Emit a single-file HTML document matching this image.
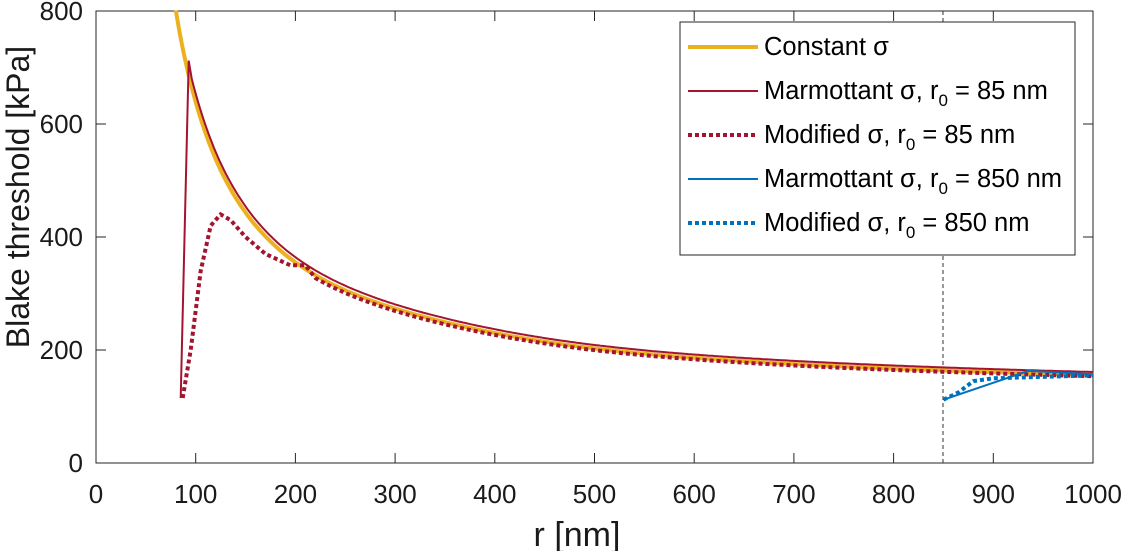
<!DOCTYPE html>
<html><head><style>
body{margin:0;background:#fff;}
svg text{font-family:"Liberation Sans",sans-serif;}
</style></head><body>
<svg id="s" width="1125" height="551" xmlns="http://www.w3.org/2000/svg">
<rect x="96" y="11" width="997" height="452" fill="#fff" stroke="#262626" stroke-width="1"/>
<g id="ticks" stroke="#262626" stroke-width="1"></g>
<g font-size="26" fill="#1a1a1a" id="labels"></g>
<line x1="943" y1="11" x2="943" y2="463" stroke="#333" stroke-width="1" stroke-dasharray="4,3"/>
<g id="series" fill="none"></g>
<text x="577" y="546" font-size="34" text-anchor="middle" fill="#1a1a1a">r [nm]</text>
<text transform="translate(29,197) rotate(-90)" font-size="32" text-anchor="middle" fill="#1a1a1a">Blake threshold [kPa]</text>
<rect x="680" y="22" width="395" height="233" fill="#fff" stroke="#262626" stroke-width="1"/>
<g font-size="25.5" fill="#000">
<line x1="688" y1="47" x2="758" y2="47" stroke="#EDB120" stroke-width="4"/>
<text x="764" y="55">Constant σ</text>
<line x1="688" y1="91" x2="758" y2="91" stroke="#A2142F" stroke-width="2"/>
<text x="764" y="99">Marmottant σ, r<tspan font-size="17" dy="7">0</tspan><tspan dy="-7"> = 85 nm</tspan></text>
<line x1="688" y1="135" x2="758" y2="135" stroke="#A2142F" stroke-width="4" stroke-dasharray="4,3"/>
<text x="764" y="143">Modified σ, r<tspan font-size="17" dy="7">0</tspan><tspan dy="-7"> = 85 nm</tspan></text>
<line x1="688" y1="179" x2="758" y2="179" stroke="#0072BD" stroke-width="2"/>
<text x="764" y="187">Marmottant σ, r<tspan font-size="17" dy="7">0</tspan><tspan dy="-7"> = 850 nm</tspan></text>
<line x1="688" y1="223" x2="758" y2="223" stroke="#0072BD" stroke-width="4" stroke-dasharray="4,3"/>
<text x="764" y="231">Modified σ, r<tspan font-size="17" dy="7">0</tspan><tspan dy="-7"> = 850 nm</tspan></text>
</g>
</svg>
<script>
const X=r=>96+r*0.997, Y=v=>463-v*0.565;
const f=r=>112.5+42500/r+1e6/(r*r)+8*Math.exp(-Math.pow((r-300)/150,2));
const ns="http://www.w3.org/2000/svg";
function el(p,t,a){const e=document.createElementNS(ns,t);for(const k in a)e.setAttribute(k,a[k]);p.appendChild(e);return e;}
const tk=document.getElementById('ticks'),lb=document.getElementById('labels'),sr=document.getElementById('series');
for(let i=0;i<=10;i++){const x=X(i*100);el(tk,'line',{x1:x,y1:463,x2:x,y2:453});el(tk,'line',{x1:x,y1:11,x2:x,y2:21});
 el(lb,'text',{x:x,y:503,'text-anchor':'middle'}).textContent=i*100;}
for(let v=0;v<=800;v+=200){const y=Y(v);el(tk,'line',{x1:96,y1:y,x2:106,y2:y});el(tk,'line',{x1:1093,y1:y,x2:1083,y2:y});
 el(lb,'text',{x:83,y:y+9,'text-anchor':'end'}).textContent=v;}
function path(pts){return pts.map((p,i)=>(i?'L':'M')+X(p[0]).toFixed(1)+','+Y(p[1]).toFixed(1)).join('');}
let c=[];for(let r=80;r<=1000;r+=2)c.push([r,f(r)]);
el(sr,'path',{d:path(c),stroke:'#EDB120','stroke-width':4});
let m=[[85,115],[93,712]];for(let r=96;r<=1000;r+=2)m.push([r,f(r)*1.02+2]);
el(sr,'path',{d:path(m),stroke:'#A2142F','stroke-width':2});
let d=[[87,115],[95,200],[105,340],[115,420],[125,440],[135,430],[150,400],[170,370],[195,350],[210,350]];
for(let r=220;r<=1000;r+=4)d.push([r,f(r)*0.985]);
el(sr,'path',{d:path(d),stroke:'#A2142F','stroke-width':4,'stroke-dasharray':'4,3'});
el(sr,'path',{d:path([[850,112],[935,163],[1000,157]]),stroke:'#0072BD','stroke-width':2});
el(sr,'path',{d:path([[850,112],[865,125],[880,145],[900,150],[940,152],[1000,155]]),stroke:'#0072BD','stroke-width':4,'stroke-dasharray':'4,3'});
</script>
</body></html>
